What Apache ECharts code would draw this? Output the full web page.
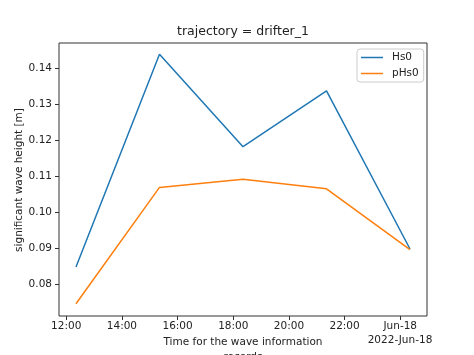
<!DOCTYPE html>
<html>
<head>
<meta charset="utf-8">
<script src="https://cdn.jsdelivr.net/npm/echarts@6/dist/echarts.min.js"></script>
<style>
  html, body { margin: 0; padding: 0; background: #fff; }
  #chart { width: 474px; height: 355px; }
</style>
</head>
<body>
<div id="chart"></div>
<script>
// times of the wave records (2022-06-17 .. 18)
const times = ['2022-06-17 12:21', '2022-06-17 15:21', '2022-06-17 18:21', '2022-06-17 21:21', '2022-06-18 00:21'];
const hs0 = [0.0848, 0.1439, 0.1182, 0.1337, 0.0898];
const phs0 = [0.0746, 0.1069, 0.1092, 0.1065, 0.0896];
const xTicks = [12, 14, 16, 18, 20, 22, 24]; // hours since 2022-06-17 00:00
const xTickLabels = ['12:00', '14:00', '16:00', '18:00', '20:00', '22:00', 'Jun-18'];
const yTicks = [0.08, 0.09, 0.10, 0.11, 0.12, 0.13, 0.14];

const base = new Date('2022-06-17T00:00:00Z').getTime();
const toHours = s => (new Date(s.replace(' ', 'T') + ':00Z').getTime() - base) / 3600000;
const xs = times.map(toHours);

const font = 'DejaVu Sans';
const chart = echarts.init(document.getElementById('chart'), null, { renderer: 'canvas' });

chart.setOption({
  animation: false,
  backgroundColor: '#fff',
  textStyle: { fontFamily: font },
  grid: {
    left: 59, right: 47, top: 43, bottom: 39,
    show: true, borderColor: '#333', borderWidth: 1
  },
  xAxis: {
    type: 'value',
    min: 11.74,
    max: 24.96,
    splitLine: { show: false },
    axisLine: { show: false },
    axisTick: { show: true, length: 4, lineStyle: { color: '#333' }, customValues: xTicks },
    axisLabel: {
      customValues: xTicks,
      color: '#222', fontSize: 10.5, fontFamily: font, margin: 5,
      formatter: v => xTickLabels[xTicks.indexOf(Math.round(v))] || ''
    }
  },
  yAxis: {
    type: 'value',
    min: 0.0712,
    max: 0.147,
    splitLine: { show: false },
    axisLine: { show: false },
    axisTick: { show: true, length: 4, lineStyle: { color: '#333' }, customValues: yTicks },
    axisLabel: {
      customValues: yTicks,
      color: '#222', fontSize: 10.5, fontFamily: font, margin: 7,
      formatter: v => v.toFixed(2)
    }
  },
  legend: {
    orient: 'vertical',
    left: 357,
    top: 49,
    icon: 'rect',
    itemWidth: 22,
    itemHeight: 1.5,
    itemGap: 5,
    padding: [3, 5, 3, 4],
    borderColor: '#ccc',
    borderWidth: 1,
    borderRadius: 3,
    textStyle: { fontFamily: font, fontSize: 10.5, color: '#222', padding: [0, 0, 0, 4] },
    data: ['Hs0', 'pHs0']
  },
  graphic: [
    {
      type: 'text',
      style: {
        x: 243, y: 32, text: 'trajectory = drifter_1', align: 'center', verticalAlign: 'middle',
        font: '12.5px "DejaVu Sans"', fill: '#222'
      }
    },
    {
      type: 'text',
      style: {
        x: 243, y: 335, text: 'Time for the wave information\nrecords', align: 'center',
        font: '10.5px "DejaVu Sans"', fill: '#222', lineHeight: 15
      }
    },
    {
      type: 'text',
      style: {
        x: 400, y: 335, text: '2022-Jun-18', align: 'center',
        font: '10.5px "DejaVu Sans"', fill: '#222'
      }
    },
    {
      type: 'text',
      rotation: Math.PI / 2,
      x: 19, y: 180,
      style: {
        x: 0, y: 0, text: 'significant wave height [m]', align: 'center', verticalAlign: 'middle',
        font: '10.5px "DejaVu Sans"', fill: '#222'
      }
    }
  ],
  series: [
    {
      name: 'Hs0', type: 'line', showSymbol: false, symbol: 'none',
      color: '#1f77b4', lineStyle: { width: 1.5, color: '#1f77b4' },
      data: xs.map((x, i) => [x, hs0[i]])
    },
    {
      name: 'pHs0', type: 'line', showSymbol: false, symbol: 'none',
      color: '#ff7f0e', lineStyle: { width: 1.5, color: '#ff7f0e' },
      data: xs.map((x, i) => [x, phs0[i]])
    }
  ]
});
</script>
</body>
</html>
